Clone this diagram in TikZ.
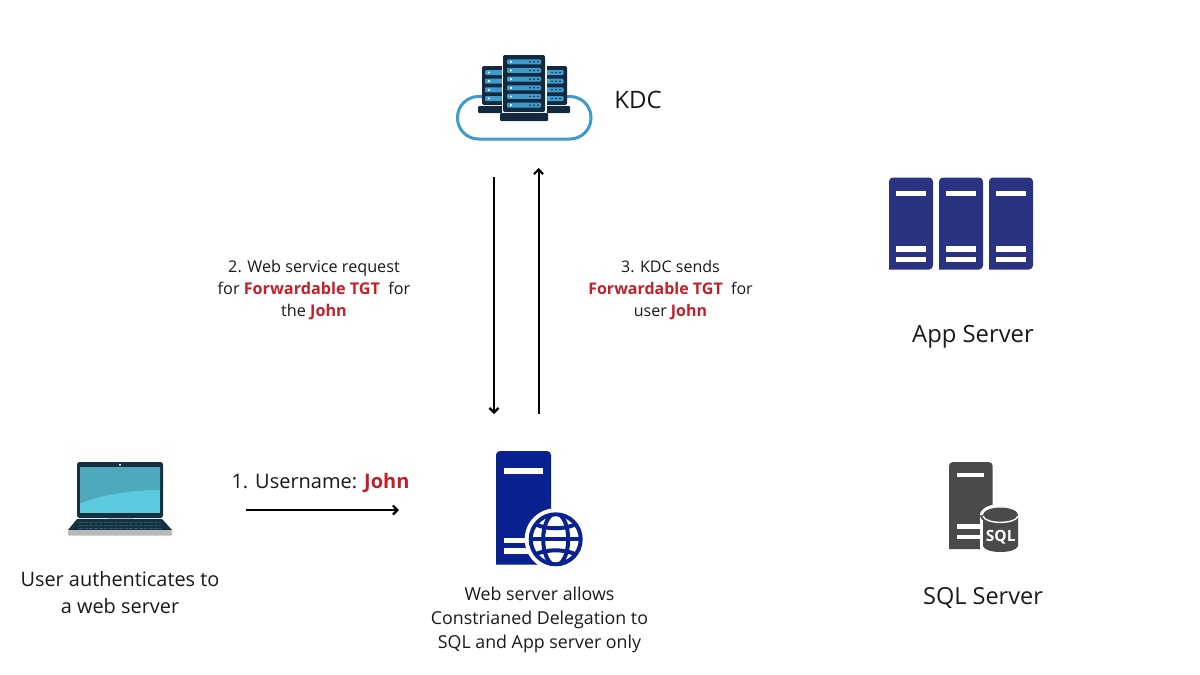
\documentclass[tikz,border=0pt]{standalone}
\usepackage{fontspec}
\setmainfont{Open Sans}
\usetikzlibrary{positioning,arrows.meta}

\definecolor{kdcdark}{HTML}{13293F}
\definecolor{kdcblue}{HTML}{3F9BCB}
\definecolor{lapdark}{HTML}{17303F}
\definecolor{lapscreen}{HTML}{4FA9BD}
\definecolor{laplight}{HTML}{5CCADF}
\definecolor{webblue}{HTML}{0A2290}
\definecolor{appblue}{HTML}{2A3282}
\definecolor{sqlgray}{HTML}{4A4A4A}
\definecolor{namered}{HTML}{C3202A}

\newcommand{\red}[1]{\textcolor{namered}{\textbf{#1}}}
\newcommand{\fs}[2]{\fontsize{#1}{#2}\selectfont}

\tikzset{
    flow/.style={draw=black, line width=2pt, -{Straight Barb[length=4.5pt,width=9pt,line width=2.2pt]}},
    lbl/.style={align=center, inner sep=0pt, text=black!90},
    slot/.style={fill=white, draw=none}
}

\begin{document}
\begin{tikzpicture}[x=1pt,y=-1pt]
    \useasboundingbox[fill=white] (0,0) rectangle (1200,675);

    % kdc cloud
    \draw[draw=kdcblue, line width=3pt, rounded corners=21pt]
        (490,96.5) -- (457.5,96.5) -- (457.5,139) -- (591,139) -- (591,96.5) -- (556,96.5);
    \fill[kdcdark, rounded corners=1.5pt] (482,66) rectangle (504,105);
    \fill[kdcdark, rounded corners=1.5pt] (545,66) rectangle (567,105);
    \fill[kdcdark, rounded corners=1pt] (478,106) rectangle (504,113);
    \fill[kdcdark, rounded corners=1pt] (545,106) rectangle (570,113);
    \foreach \i in {0,...,3} {
        \fill[kdcblue, rounded corners=1pt] (485,70+8.67*\i) rectangle (503,75+8.67*\i);
        \fill[white] (489,72.5+8.67*\i) circle (1.2);
        \fill[kdcblue, rounded corners=1pt] (546,70+8.67*\i) rectangle (563.5,75+8.67*\i);
        \fill[kdcdark] (552,72.5+8.67*\i) circle (0.9) (556,72.5+8.67*\i) circle (0.9) (560,72.5+8.67*\i) circle (0.9);
    }
    \fill[white] (501.5,53.5) rectangle (546.5,123);
    \fill[kdcdark, rounded corners=2pt] (503,55) rectangle (545,112);
    \fill[kdcdark, rounded corners=1pt] (500,113) rectangle (548,121);
    \foreach \i in {0,...,5} {
        \fill[kdcblue, rounded corners=1pt] (507,59.3+8.67*\i) rectangle (541,64.3+8.67*\i);
        \fill[white] (511,61.8+8.67*\i) circle (1.2);
        \fill[kdcdark] (530,61.8+8.67*\i) circle (0.9) (534,61.8+8.67*\i) circle (0.9) (538,61.8+8.67*\i) circle (0.9);
    }
    \node[lbl, font=\fs{24}{28}] (kdc) at (638,100) {KDC};

    % app server
    \foreach \x in {889,939,989} {
        \fill[appblue, rounded corners=4pt] (\x,269.5) -- (\x,177.5) -- (\x+44,177.5) -- (\x+44,269.5) [sharp corners] -- cycle;
        \fill[slot] (\x+7,190.7) rectangle (\x+37,196);
        \fill[slot] (\x+7,246) rectangle (\x+37,251.7);
        \fill[slot] (\x+7,256.7) rectangle (\x+37,262);
    }
    \node[lbl, font=\fs{23.8}{28}] (app) at (973,337) {App Server};

    % sql server
    \fill[sqlgray, rounded corners=4pt] (949,549) -- (949,462) -- (992.7,462) -- (992.7,549) [sharp corners] -- cycle;
    \fill[slot] (957,473) rectangle (984,477.3);
    \fill[slot] (957,524) rectangle (984,528.7);
    \fill[slot] (957,535) rectangle (984,539.3);
    \fill[white] (980,515) rectangle (1021,553) (1000.5,515) ellipse (20.5 and 11);
    \fill[sqlgray] (983,515) -- (983,546) .. controls (985,554) and (1016,554) .. (1018,546) -- (1018,515) -- cycle;
    \fill[sqlgray] (1000.5,515) ellipse (17.5 and 7.5);
    \draw[white, line width=1.4pt] (983,516) .. controls (985,524.5) and (1016,524.5) .. (1018,516);
    \node[lbl, text=white, font=\fs{15.5}{18}\bfseries] (sql) at (1000.7,537) {SQL};
    \node[lbl, font=\fs{23.5}{28}] (sqlname) at (983,598) {SQL Server};

    % web server
    \fill[webblue, rounded corners=4pt] (496,564.5) -- (496,451) -- (551,451) -- (551,564.5) [sharp corners] -- cycle;
    \fill[slot] (504,468) rectangle (543.3,474);
    \fill[slot] (504,537.7) rectangle (530,543);
    \fill[slot] (504,548) rectangle (530,554);
    \fill[white] (555.7,539.3) circle (31);
    \begin{scope}
        \clip (555.7,539.3) circle (26);
        \draw[webblue, line width=4pt] (555.7,539.3) ellipse (12.5 and 26);
        \draw[webblue, line width=4pt] (529,539.3) -- (582,539.3);
        \draw[webblue, line width=4pt] (533,523) .. controls (545,530) and (566,530) .. (578,523);
        \draw[webblue, line width=4pt] (533,555.6) .. controls (545,548.6) and (566,548.6) .. (578,555.6);
    \end{scope}
    \draw[webblue, line width=4pt] (555.7,539.3) circle (25);
    \node[lbl, font=\fs{17.8}{24}] (web) at (539.5,620) {Web server allows\\Constrianed Delegation to\\SQL and App server only};

    % laptop
    \fill[lapdark, rounded corners=2.5pt] (77,462) rectangle (163,518);
    \fill[laplight] (80,467) rectangle (160,513);
    \fill[lapscreen] (80,467) -- (160,467) -- (160,490) .. controls (130,490) and (100,495) .. (80,503.5) -- cycle;
    \fill[white] (120,464.7) circle (1.2);
    \fill[lapdark] (77,519) -- (162,519) -- (172,530) -- (68,530) -- cycle;
    \fill[white!70!lapdark] (108,518) rectangle (133,519.2);
    \foreach \y in {522,525,528} {
        \draw[lapscreen!35!lapdark, line width=1pt, dash pattern=on 4pt off 1pt] (79-\y/40+522/40,\y) -- (161+\y/40-522/40,\y);
    }
    \fill[gray!55, rounded corners=1pt] (68,530) rectangle (172,535.6);
    \node[lbl, font=\fs{19.9}{27}] (user) at (120,592.5) {User authenticates to\\a web server};

    % connectors
    \coordinate (userend) at (246,510);
    \coordinate (webin) at (399,510);
    \coordinate (webup) at (538.5,414);
    \coordinate (kdcdown) at (494,177);
    \coordinate (kdcup) at (538.5,168);
    \coordinate (webtop) at (494,414);
    \draw[flow] (userend) -- (webin);
    \draw[flow] (kdcdown) -- (webtop);
    \draw[flow] (webup) -- (kdcup);

    \node[lbl, font=\fs{20}{24}] (uname) at (320.5,483) {1. Username: \red{John}};
    \node[lbl, font=\fs{16.2}{22}] (req) at (314,290) {2. Web service request\\for \red{Forwardable TGT}\ \ for\\the \red{John}};
    \node[lbl, font=\fs{16}{22}] (resp) at (670.5,290) {3. KDC sends\\\red{Forwardable TGT}\ \ for\\user \red{John}};
\end{tikzpicture}
\end{document}
